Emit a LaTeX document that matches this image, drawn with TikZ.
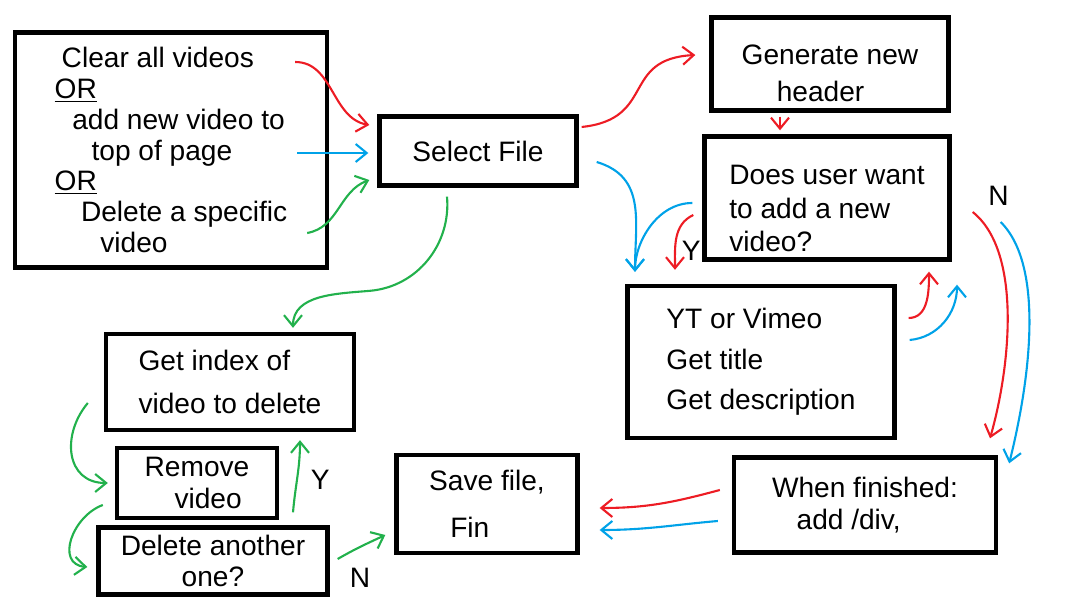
\documentclass[tikz,border=0pt]{standalone}
\usepackage{fontspec}
\setmainfont{Liberation Sans}
\usetikzlibrary{calc, positioning, arrows.meta}

\definecolor{pred}{RGB}{237,28,36}
\definecolor{pblue}{RGB}{0,162,232}
\definecolor{pgreen}{RGB}{34,177,76}
\newcommand{\hand}{\fontsize{16}{18}\selectfont}

\begin{document}
\begin{tikzpicture}[
    x=0.02cm, y=-0.02cm,
    box/.style={draw, line width=2.5pt, align=left, font=\hand, inner sep=0pt},
    arrow/.style={->, >={Straight Barb[length=2.2mm, width=3.6mm]}, line width=1.2pt, draw=#1},
    arrow/.default=pred,
    lbl/.style={font=\hand}
]
\useasboundingbox (0,0) rectangle (1083,607);

% Entry choices
\node[box, minimum width=6.24cm, minimum height=4.70cm] (opts) at (171,150)
    {\hspace*{4pt}Clear all videos\\[-0.5pt] \underline{OR}\\[-0.5pt] \hspace*{10pt}add new video to\\[-0.5pt]
     \hspace*{21pt}top of page\\[-0.5pt] \underline{OR}\\[-0.5pt] \hspace*{15pt}Delete a specific\\[-0.5pt]
     \hspace*{26pt}video};
\node[box, minimum width=3.94cm, minimum height=1.38cm] (sel) at (478,151) {Select File};

% Adding videos
\node[box, minimum width=4.74cm, minimum height=1.86cm] (gen) at (830,64)
    {\rule{0pt}{22pt}Generate new\\[3pt] \hspace*{20pt}header};
\node[box, minimum width=4.90cm, minimum height=2.46cm] (ask) at (827,198)
    {\rule{0pt}{23pt}Does user want\\[1pt] to add a new\\[1pt] video?};
\node[box, minimum width=5.34cm, minimum height=3.04cm] (yt) at (761,362)
    {YT or Vimeo\\[5pt] Get title\\[5pt] Get description};
\node[box, minimum width=5.24cm, minimum height=1.90cm] (fin) at (865,505)
    {When finished:\\ \hspace*{14pt}add /div,};
\node[box, minimum width=3.62cm, minimum height=1.96cm] (save) at (487,504)
    {Save file,\\[9pt] \hspace*{12pt}Fin};

% Deleting videos
\node[box, minimum width=4.96cm, minimum height=1.92cm] (idx) at (230,382)
    {Get index of\\[6pt] video to delete};
\node[box, minimum width=3.20cm, minimum height=1.40cm] (rem) at (197,483)
    {Remove\\ \hspace*{17pt}video};
\node[box, minimum width=4.58cm, minimum height=1.34cm, align=center] (again) at (213,561)
    {Delete another\\ one?};

% Arrows
\draw[arrow=pred] ($(opts.east)+(-34,-88)$) to[out=0, in=170] ($(sel.west)+(-8,-26)$);
\draw[arrow=pblue] ($(opts.east)+(-32,3)$) -- ($(sel.west)+(-9,2)$);
\draw[arrow=pgreen] ($(opts.east)+(-22,83)$) to[out=10, in=200] ($(sel.west)+(-8,29)$);
\draw[arrow=pred] ($(sel.east)+(3,-24)$) .. controls +(75,-8) and +(-75,4) .. ($(gen.west)+(-14,-9)$);
\draw[arrow=pred] ($(gen.south)+(-50,4)$) -- ($(ask.north)+(-47,-4)$);
\draw[arrow=pblue] ($(sel.east)+(18,11)$) .. controls +(50,15) and +(0,-50) .. ($(yt.north)+(-126,-12)$);
\draw[arrow=pblue] ($(ask.west)+(-10,5)$) .. controls +(-35,0) and +(0,-30) .. ($(yt.north)+(-126,-12)$);
\draw[arrow=pred] ($(ask.west)+(-9,17)$) to[out=205, in=90]
    node[lbl, pos=0.72, right=0pt] {Y} ($(yt.north)+(-86,-14)$);
\draw[arrow=pred] ($(yt.east)+(12,-44)$) to[out=0, in=-90] ($(ask.south)+(102,10)$);
\draw[arrow=pblue] ($(yt.east)+(13,-22)$) to[out=5, in=-90] ($(ask.south)+(130,23)$);
\draw[arrow=pred] ($(ask.east)+(21,14)$) .. controls +(50,40) and +(20,-70) ..
    node[lbl, at start, above right=0pt and 5pt] {N} ($(fin.north)+(125,-17)$);
\draw[arrow=pblue] ($(ask.east)+(49,24)$) .. controls +(45,45) and +(20,-80) .. ($(fin.north east)+(11,8)$);
\draw[arrow=pred] ($(fin.west)+(-12,-15)$) to[out=195, in=0] ($(save.east)+(20,4)$);
\draw[arrow=pblue] ($(fin.west)+(-14,16)$) to[out=185, in=0] ($(save.east)+(20,26)$);
\draw[arrow=pgreen] ($(sel.south)+(-31,9)$) to[out=-85, in=5] ($(idx.north)+(140,-41)$)
    to[out=185, in=90] ($(idx.north)+(63,-4)$);
\draw[arrow=pgreen] ($(idx.west)+(-16,21)$) to[out=230, in=180, looseness=1.3] ($(rem.west)+(-7,0)$);
\draw[arrow=pgreen] ($(rem.west)+(-12,22)$) to[out=200, in=175, looseness=1.3] ($(again.west)+(-9,6)$);
\draw[arrow=pgreen] ($(again.north)+(80,-13)$) to[out=85, in=-90]
    node[lbl, pos=0.45, right=4pt] {Y} ($(idx.south)+(70,8)$);
\draw[arrow=pgreen] ($(again.east)+(8,-2)$) to[out=30, in=205]
    node[lbl, at start, below right=1pt and 3pt] {N} ($(save.west)+(-9,31)$);

\end{tikzpicture}
\end{document}
